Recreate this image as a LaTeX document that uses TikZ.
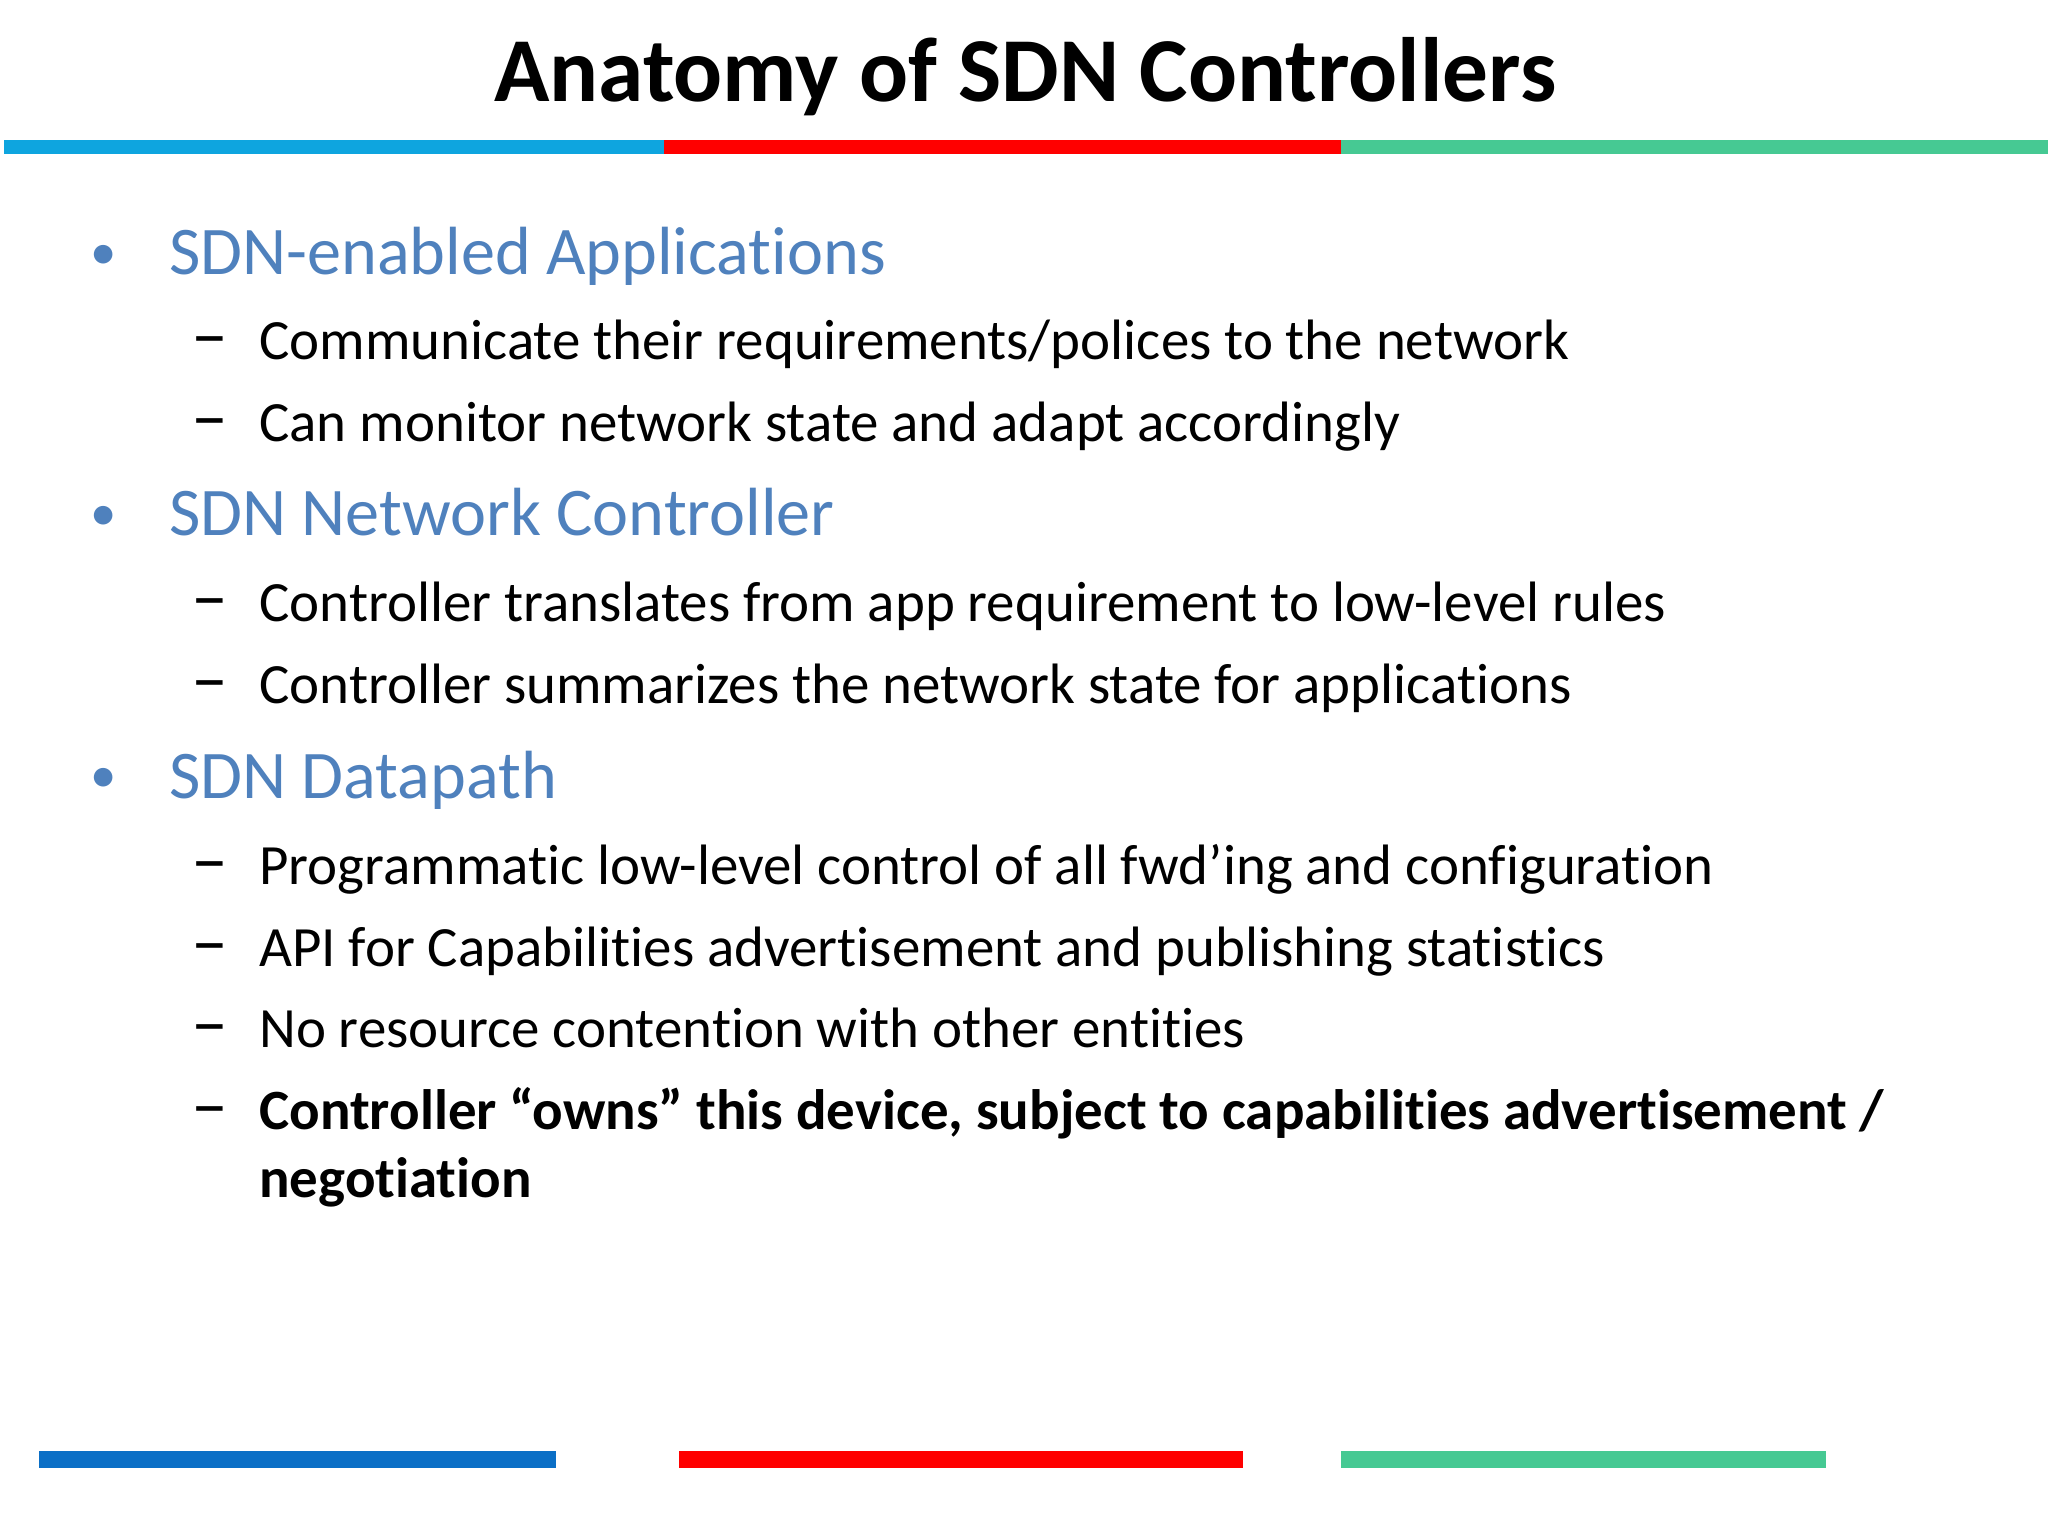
\documentclass[tikz,border=0pt]{standalone}
\usepackage{fontspec}
\setmainfont{Carlito}[RawFeature=-liga]
\definecolor{hd}{HTML}{4F81BD}
\definecolor{bb}{HTML}{0EA5DF}
\definecolor{rr}{HTML}{FF0000}
\definecolor{gg}{HTML}{46C993}
\definecolor{db}{HTML}{0B6FC6}
\begin{document}
\begin{tikzpicture}[x=0.01306cm,y=-0.01306cm,
  head/.style={anchor=base west,inner sep=0pt,text=hd,font=\fontsize{19.4}{23}\selectfont},
  sub/.style={anchor=base west,inner sep=0pt,font=\fontsize{16.2}{20}\selectfont},
  mark1/.style={anchor=base,inner sep=0pt,text=hd,font=\fontsize{15}{18}\selectfont},
  mark2/.style={anchor=base,inner sep=0pt,font=\fontsize{21}{21}\selectfont}]
\useasboundingbox (0,0) rectangle (1568,1176);
\node[anchor=base,inner sep=0pt,font=\fontsize{26}{30}\selectfont\bfseries] (title) at (785,78) {Anatomy of SDN Controllers};
\fill[bb] (3,107) rectangle (508,118);
\fill[rr] (508,107) rectangle (1027,118);
\fill[gg] (1027,107) rectangle (1568,118);
\fill[db] (30,1111) rectangle (426,1124);
\fill[rr] (520,1111) rectangle (952,1124);
\fill[gg] (1027,1111) rectangle (1398,1124);
\foreach \y/\t [count=\i] in {210/SDN-enabled Applications,410/SDN Network Controller,611/SDN Datapath}{
  \node[mark1] (b\i) at (79,\y-4) {•};
  \node[head] (h\i) at (129,\y) {\t};
}
\foreach \y/\t [count=\i] in {
 275/{Communicate their requirements/polices to the network},
 338/{Can monitor network state and adapt accordingly},
 476/{Controller translates from app requirement to low-level rules},
 539/{Controller summarizes the network state for applications},
 677/{Programmatic low-level control of all fwd’ing and configuration},
 740/{API for Capabilities advertisement and publishing statistics},
 802/{No resource contention with other entities}}{
  \node[mark2] (d\i) at (161,\y) {–};
  \node[sub] (s\i) at (198,\y) {\t};
}
\node[mark2] (d8) at (161,865) {–};
\node[sub,font=\fontsize{16.2}{20}\selectfont\bfseries] (s8) at (198,865) {Controller “owns” this device, subject to capabilities advertisement /};
\node[sub,font=\fontsize{16.2}{20}\selectfont\bfseries] (s9) at (198,917) {negotiation};
\end{tikzpicture}
\end{document}
